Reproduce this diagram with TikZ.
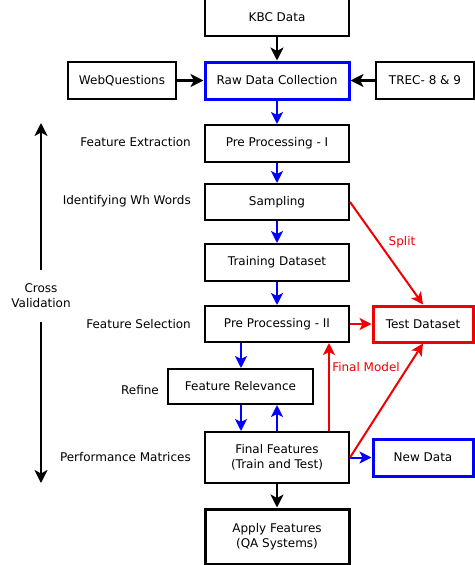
\documentclass[tikz,border=0pt]{standalone}
\usepackage{fontspec}
\setmainfont{DejaVu Sans}
\usetikzlibrary{arrows.meta}
\definecolor{pblue}{RGB}{0,0,255}
\definecolor{pred}{RGB}{240,0,0}
\begin{document}
\begin{tikzpicture}[x=1pt,y=-1pt,
  every node/.style={font=\fontsize{12}{15}\selectfont, inner sep=0pt},
  box/.style={draw=black, line width=2pt, minimum width=144pt, align=center},
  bluebox/.style={draw=pblue, line width=3pt},
  redbox/.style={draw=pred, line width=3pt},
  thickbox/.style={line width=3pt},
  lbl/.style={anchor=east},
  arr/.style={-{Stealth[length=12pt,width=12pt,inset=3pt]}, line width=2pt},
  barr/.style={arr, draw=pblue},
  rarr/.style={arr, draw=pred},
  karr/.style={line width=2.5pt, -{Stealth[length=13pt,width=13pt,inset=3.5pt]}}
]
\useasboundingbox (0,0) rectangle (474,565);
% boxes
\node[box, minimum height=37pt] (kbc) at (277,17.5) {KBC Data};
\node[box, bluebox, minimum height=37pt] (raw) at (277,80.5) {Raw Data Collection};
\node[box, minimum width=108pt, minimum height=37pt] (web) at (122,80.5) {WebQuestions};
\node[box, minimum width=98pt, minimum height=37pt] (trec) at (425,80.5) {TREC- 8 \& 9};
\node[box, minimum height=37pt] (pre1) at (277,143.5) {Pre Processing - I};
\node[box, minimum height=36pt] (samp) at (277,202) {Sampling};
\node[box, minimum height=37pt] (train) at (277,262.5) {Training Dataset};
\node[box, minimum height=36pt] (pre2) at (277,324) {Pre Processing - II};
\node[box, redbox, minimum width=100pt, minimum height=36pt] (test) at (423,324) {Test Dataset};
\node[box, minimum width=145pt, minimum height=35pt] (frel) at (240.5,386.5) {Feature Relevance};
\node[box, minimum height=51pt] (final) at (277,457.5) {Final Features\\(Train and Test)};
\node[box, bluebox, minimum width=100pt, minimum height=37pt] (newd) at (423,457.5) {New Data};
\node[box, thickbox, minimum height=55pt] (apply) at (277,536.5) {Apply Features\\(QA Systems)};
% left labels
\node[lbl] (l1) at (191,142) {Feature Extraction};
\node[lbl] (l2) at (191,201) {Identifying Wh Words};
\node[lbl] (l3) at (191,324) {Feature Selection};
\node[lbl] (l4) at (159,390) {Refine};
\node[lbl] (l5) at (191,457) {Performance Matrices};
\node[align=center] (cv) at (41,295.5) {Cross\\Validation};
\coordinate (cu1) at (41,270);
\coordinate (cu2) at (41,123);
\coordinate (cd1) at (41,322);
\coordinate (cd2) at (41,483);
\draw[karr, line width=2pt] (cu1) -- (cu2);
\draw[karr, line width=2pt] (cd1) -- (cd2);
% black arrows
\draw[karr] (kbc) -- (raw);
\draw[karr] (web) -- (raw);
\draw[karr] (trec) -- (raw);
\draw[karr] (final) -- (apply);
% blue chain
\draw[barr] (raw) -- (pre1);
\draw[barr] (pre1) -- (samp);
\draw[barr] (samp) -- (train);
\draw[barr] (train) -- (pre2);
\coordinate (xa) at (241,0);
\coordinate (xb) at (277,0);
\coordinate (xc) at (329,0);
\draw[barr] (pre2.south -| xa) -- (frel.north -| xa);
\draw[barr] (frel.south -| xa) -- (final.north -| xa);
\draw[barr] (final.north -| xb) -- (frel.south -| xb);
\draw[barr] (final.east) -- (newd.west);
% red
\draw[rarr] (pre2) -- (test);
\draw[rarr] (samp.east) -- (test.north);
\draw[rarr] (final.north -| xc) -- (pre2.south -| xc);
\draw[rarr] (final.east) -- (test.south);
\node[text=pred] (split) at (402,242) {Split};
\node[text=pred] (fm) at (366,367) {Final Model};
\end{tikzpicture}
\end{document}
